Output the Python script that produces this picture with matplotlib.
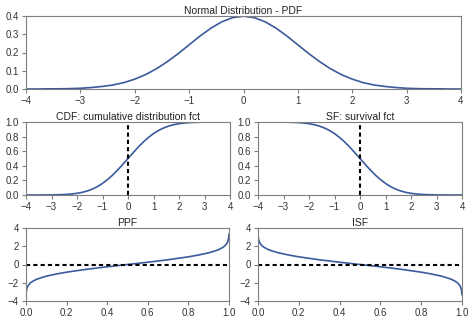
import matplotlib
matplotlib.use("Agg")
import matplotlib.pyplot as plt

# values
x_vals = [-4.0, -3.8, -3.6, -3.4, -3.2, -3.0, -2.8, -2.6, -2.4, -2.2, -2.0,
          -1.8, -1.6, -1.4, -1.2, -1.0, -0.8, -0.6, -0.4, -0.2, 0.0,
          0.2, 0.4, 0.6, 0.8, 1.0, 1.2, 1.4, 1.6, 1.8, 2.0,
          2.2, 2.4, 2.6, 2.8, 3.0, 3.2, 3.4, 3.6, 3.8, 4.0]
pdf_vals = [0.000, 0.000, 0.001, 0.001, 0.002, 0.004, 0.008, 0.014, 0.022, 0.035, 0.054,
            0.079, 0.111, 0.150, 0.194, 0.242, 0.290, 0.333, 0.368, 0.391, 0.399,
            0.391, 0.368, 0.333, 0.290, 0.242, 0.194, 0.150, 0.111, 0.079, 0.054,
            0.035, 0.022, 0.014, 0.008, 0.004, 0.002, 0.001, 0.001, 0.000, 0.000]
cdf_vals = [0.000, 0.000, 0.000, 0.000, 0.001, 0.001, 0.003, 0.005, 0.008, 0.014, 0.023,
            0.036, 0.055, 0.081, 0.115, 0.159, 0.212, 0.274, 0.345, 0.421, 0.500,
            0.579, 0.655, 0.726, 0.788, 0.841, 0.885, 0.919, 0.945, 0.964, 0.977,
            0.986, 0.992, 0.995, 0.997, 0.999, 0.999, 1.000, 1.000, 1.000, 1.000]
sf_vals = [1.000, 1.000, 1.000, 1.000, 0.999, 0.999, 0.997, 0.995, 0.992, 0.986, 0.977,
           0.964, 0.945, 0.919, 0.885, 0.841, 0.788, 0.726, 0.655, 0.579, 0.500,
           0.421, 0.345, 0.274, 0.212, 0.159, 0.115, 0.081, 0.055, 0.036, 0.023,
           0.014, 0.008, 0.005, 0.003, 0.001, 0.001, 0.000, 0.000, 0.000, 0.000]

p_vals = [0.0005, 0.001, 0.002, 0.003, 0.005, 0.01, 0.02, 0.03, 0.05, 0.07, 0.1,
          0.15, 0.2, 0.3, 0.4, 0.5, 0.6, 0.7, 0.8, 0.85, 0.9,
          0.93, 0.95, 0.97, 0.98, 0.99, 0.995, 0.997, 0.998, 0.999, 0.9995]
ppf_vals = [-3.29, -3.09, -2.88, -2.75, -2.58, -2.33, -2.05, -1.88, -1.64, -1.48, -1.28,
            -1.04, -0.84, -0.52, -0.25, 0.00, 0.25, 0.52, 0.84, 1.04, 1.28,
            1.48, 1.64, 1.88, 2.05, 2.33, 2.58, 2.75, 2.88, 3.09, 3.29]
isf_vals = [3.29, 3.09, 2.88, 2.75, 2.58, 2.33, 2.05, 1.88, 1.64, 1.48, 1.28,
            1.04, 0.84, 0.52, 0.25, 0.00, -0.25, -0.52, -0.84, -1.04, -1.28,
            -1.48, -1.64, -1.88, -2.05, -2.33, -2.58, -2.75, -2.88, -3.09, -3.29]

x_ticks = [-4, -3, -2, -1, 0, 1, 2, 3, 4]
p_ticks = [0.0, 0.2, 0.4, 0.6, 0.8, 1.0]

plt.rcParams['font.family'] = ['Liberation Sans', 'DejaVu Sans']
plt.rcParams['font.size'] = 7

LINE = '#3a5a9b'
SPINE = '#7f7f7f'
W, H = 474, 325

fig = plt.figure(figsize=(W / 100, H / 100), dpi=100)


def make_ax(x0, y0, x1, y1):
    # pixel box -> figure fraction
    ax = fig.add_axes([x0 / W, 1 - y1 / H, (x1 - x0) / W, (y1 - y0) / H])
    for s in ax.spines.values():
        s.set_color(SPINE)
        s.set_linewidth(0.8)
    ax.tick_params(colors=SPINE, labelcolor='#333333', length=3, width=0.8,
                   labelsize=7, pad=2)
    return ax


def style(ax, title, xlim, ylim, xticks, yticks, yfmt):
    ax.set_xlim(*xlim)
    ax.set_ylim(*ylim)
    ax.set_xticks(xticks)
    ax.set_yticks(yticks)
    ax.set_yticklabels([yfmt.format(v).replace('-', '\u2212') for v in yticks])
    ax.set_title(title, fontsize=7.5, pad=1.5, color='#222222')


ax1 = make_ax(26, 16, 461, 89)
ax1.plot(x_vals, pdf_vals, color=LINE, lw=1.2)
style(ax1, 'Normal Distribution - PDF', (-4, 4), (0, 0.4), x_ticks,
      [0.0, 0.1, 0.2, 0.3, 0.4], '{:.1f}')

ax2 = make_ax(26, 122, 230, 195)
ax2.plot(x_vals, cdf_vals, color=LINE, lw=1.2)
ax2.axvline(0, color='k', ls='--', lw=1.5, dashes=(2, 1.5))
style(ax2, 'CDF: cumulative distribution fct', (-4, 4), (0, 1), x_ticks,
      [0.0, 0.2, 0.4, 0.6, 0.8, 1.0], '{:.1f}')

ax3 = make_ax(258, 122, 462, 195)
ax3.plot(x_vals, sf_vals, color=LINE, lw=1.2)
ax3.axvline(0, color='k', ls='--', lw=1.5, dashes=(2, 1.5))
style(ax3, 'SF: survival fct', (-4, 4), (0, 1), x_ticks,
      [0.0, 0.2, 0.4, 0.6, 0.8, 1.0], '{:.1f}')

ax4 = make_ax(26, 228, 229, 301)
ax4.plot(p_vals, ppf_vals, color=LINE, lw=1.2)
ax4.axhline(0, color='k', ls='--', lw=1.5, dashes=(2, 1.5))
style(ax4, 'PPF', (0, 1), (-4, 4), p_ticks, [-4, -2, 0, 2, 4], '{:d}')

ax5 = make_ax(258, 228, 462, 301)
ax5.plot(p_vals, isf_vals, color=LINE, lw=1.2)
ax5.axhline(0, color='k', ls='--', lw=1.5, dashes=(2, 1.5))
style(ax5, 'ISF', (0, 1), (-4, 4), p_ticks, [-4, -2, 0, 2, 4], '{:d}')

for ax in (ax4, ax5):
    ax.set_xticklabels(['{:.1f}'.format(v) for v in p_ticks])

fig.savefig('out.png', dpi=100)
